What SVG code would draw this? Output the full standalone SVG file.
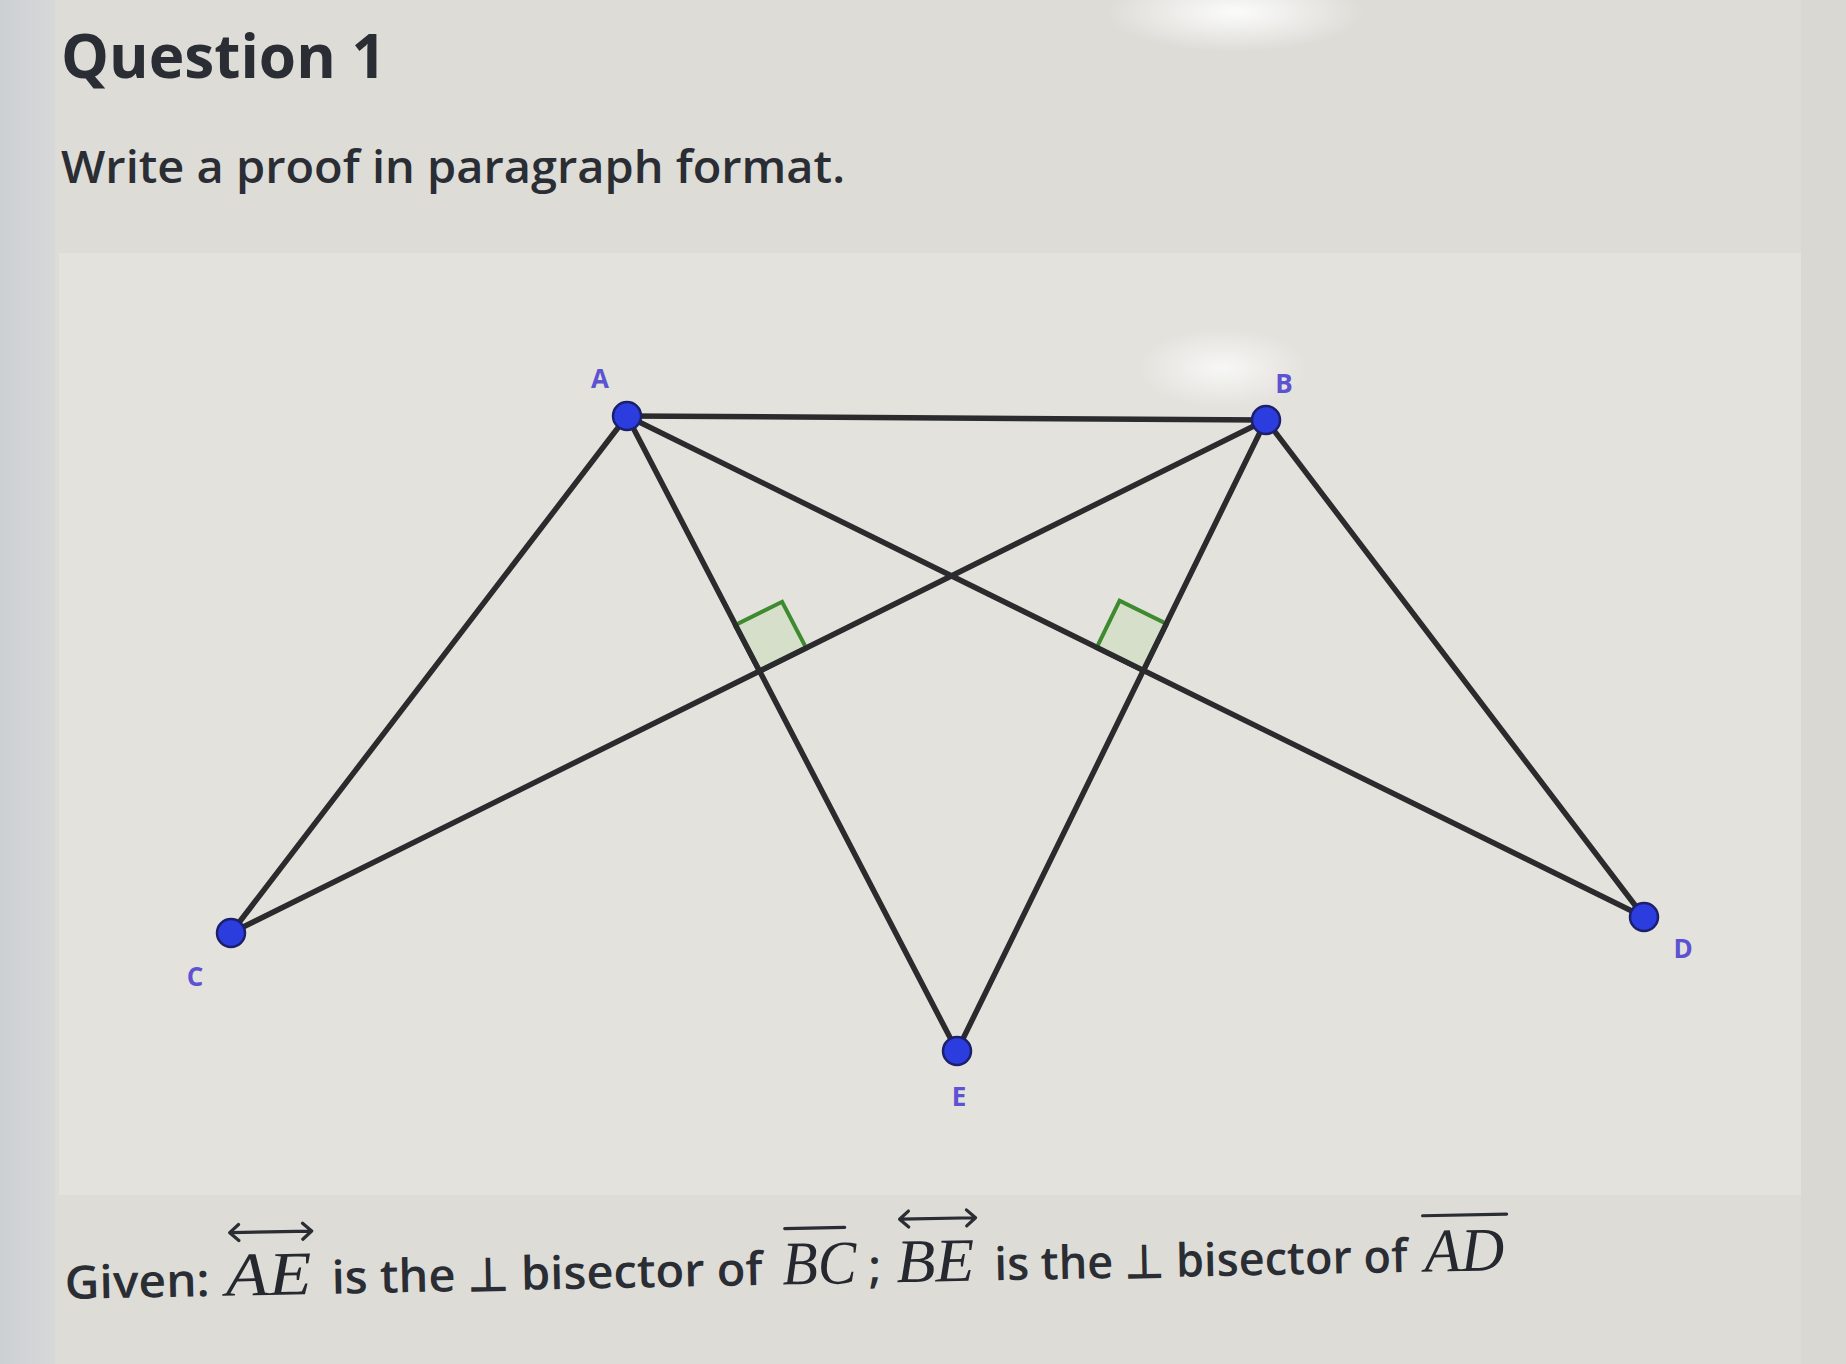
<svg xmlns="http://www.w3.org/2000/svg" width="1846" height="1364" viewBox="0 0 1846 1364">
<defs>
<style>
.seg{stroke:#2b2b2d;stroke-width:5.5;stroke-linecap:round;fill:none}
.pt{fill:#2c3de0;stroke:#1c1f6a;stroke-width:2.5}
.lbl{font-family:"Open Sans","Liberation Sans",sans-serif;font-weight:700;font-size:26px;fill:#5c52d2;text-anchor:middle}
.ra{fill:#d5dfca;stroke:#3e8a2f;stroke-width:4;stroke-linejoin:miter}
.txt{font-family:"Open Sans","Liberation Sans",sans-serif;fill:#2a2d33}
.math{font-family:"Liberation Serif","Times New Roman",serif;font-style:italic;fill:#25282e;font-size:62px}
.mline{stroke:#2a2d33;stroke-width:3.2;fill:none;stroke-linecap:round;stroke-linejoin:round}
</style>
<radialGradient id="glare" cx="0.5" cy="0.5" r="0.5">
<stop offset="0" stop-color="#ffffff" stop-opacity="0.9"/>
<stop offset="1" stop-color="#ffffff" stop-opacity="0"/>
</radialGradient>
<linearGradient id="leftstrip" x1="0" y1="0" x2="1" y2="0">
<stop offset="0" stop-color="#cdd0d3"/>
<stop offset="1" stop-color="#d6d8d9"/>
</linearGradient>
</defs>
<!-- background -->
<rect x="0" y="0" width="1846" height="1364" fill="#dddcd7"/>
<rect x="0" y="0" width="55" height="1364" fill="url(#leftstrip)"/>
<rect x="59" y="253" width="1742" height="942" fill="#e3e2dd"/>
<rect x="1801" y="0" width="45" height="1364" fill="#d9d8d3"/>
<ellipse cx="1235" cy="12" rx="130" ry="40" fill="url(#glare)"/>
<ellipse cx="1222" cy="368" rx="85" ry="40" fill="url(#glare)" opacity="0.8"/>

<!-- header text -->
<text class="txt" x="61" y="78" font-size="60" font-weight="700" textLength="325" lengthAdjust="spacingAndGlyphs">Question 1</text>
<text class="txt" x="61" y="183" font-size="45" font-weight="600" textLength="784" lengthAdjust="spacingAndGlyphs">Write a proof in paragraph format.</text>

<!-- connectors -->
<g id="connectors">
<line class="seg" x1="627" y1="416" x2="1266" y2="420"/>
<line class="seg" x1="627" y1="416" x2="231" y2="933"/>
<line class="seg" x1="627" y1="416" x2="957" y2="1051"/>
<line class="seg" x1="627" y1="416" x2="1644" y2="917"/>
<line class="seg" x1="1266" y1="420" x2="231" y2="933"/>
<line class="seg" x1="1266" y1="420" x2="957" y2="1051"/>
<line class="seg" x1="1266" y1="420" x2="1644" y2="917"/>
</g>

<!-- right angle marks -->
<g id="right-angles">
<polygon class="ra" points="759.5,671 735.5,624.9 782.1,601.8 806.1,647.9"/>
<polygon class="ra" points="1143.4,670.4 1166.3,623.7 1119.6,600.7 1096.8,647.4"/>
</g>
<g id="right-angle-overlay">
<line class="seg" x1="759.5" y1="671" x2="735.5" y2="624.9"/>
<line class="seg" x1="759.5" y1="671" x2="806.1" y2="647.9"/>
<line class="seg" x1="1143.4" y1="670.4" x2="1166.3" y2="623.7"/>
<line class="seg" x1="1143.4" y1="670.4" x2="1096.8" y2="647.4"/>
</g>

<!-- nodes -->
<g id="node-A"><circle class="pt" cx="627" cy="416" r="14"/><text class="lbl" x="600" y="388">A</text></g>
<g id="node-B"><circle class="pt" cx="1266" cy="420" r="14"/><text class="lbl" x="1284" y="393">B</text></g>
<g id="node-C"><circle class="pt" cx="231" cy="933" r="14"/><text class="lbl" x="195" y="986">C</text></g>
<g id="node-D"><circle class="pt" cx="1644" cy="917" r="14"/><text class="lbl" x="1683" y="958">D</text></g>
<g id="node-E"><circle class="pt" cx="957" cy="1051" r="14"/><text class="lbl" x="959" y="1106">E</text></g>

<!-- given statement -->
<g id="given" transform="rotate(-1.15 65 1299)">
<text class="txt" x="65" y="1299" font-size="46" font-weight="600" textLength="145" lengthAdjust="spacingAndGlyphs">Given:</text>
<text class="math" x="226" y="1299" textLength="86" lengthAdjust="spacingAndGlyphs">AE</text>
<path class="mline" d="M232 1236 H312 M240 1228 L231 1236 L240 1244 M304 1228 L313 1236 L304 1244"/>
<text class="txt" x="332" y="1299" font-size="46" font-weight="600" textLength="431" lengthAdjust="spacingAndGlyphs">is the ⊥ bisector of</text>
<text class="math" x="783" y="1299" textLength="74" lengthAdjust="spacingAndGlyphs">BC</text>
<path class="mline" d="M786 1243 H846"/>
<text class="txt" x="869" y="1299" font-size="46" font-weight="600">;</text>
<text class="math" x="897" y="1299" textLength="78" lengthAdjust="spacingAndGlyphs">BE</text>
<path class="mline" d="M902 1236 H976 M910 1228 L901 1236 L910 1244 M968 1228 L977 1236 L968 1244"/>
<text class="txt" x="995" y="1299" font-size="46" font-weight="600" textLength="413" lengthAdjust="spacingAndGlyphs">is the ⊥ bisector of</text>
<text class="math" x="1425" y="1299" textLength="80" lengthAdjust="spacingAndGlyphs">AD</text>
<path class="mline" d="M1424 1243 H1508"/>
</g>
</svg>
